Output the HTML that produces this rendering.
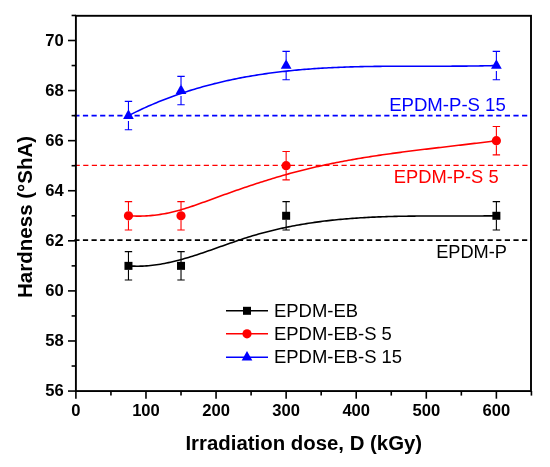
<!DOCTYPE html>
<html><head><meta charset="utf-8"><style>
html,body{margin:0;padding:0;background:#fff;}
svg{display:block;}
</style></head><body>
<svg width="550" height="467" viewBox="0 0 550 467" font-family='"Liberation Sans", Arial, Helvetica, sans-serif'>
<rect width="550" height="467" fill="#fff"/>
<line x1="74.3" y1="115.60" x2="531" y2="115.60" stroke="#0000ff" stroke-width="1.6" stroke-dasharray="5.2 3.41"/>
<text transform="translate(505.80 110.80) scale(1.0440 1)" font-size="17.8" text-anchor="end" fill="#0000ff">EPDM-P-S 15</text>
<line x1="74.6" y1="165.35" x2="531" y2="165.35" stroke="#ff0000" stroke-width="1.4" stroke-dasharray="5.2 3.41"/>
<text transform="translate(498.60 183.40) scale(1.0300 1)" font-size="17.8" text-anchor="end" fill="#ff0000">EPDM-P-S 5</text>
<line x1="74.3" y1="240.10" x2="531" y2="240.10" stroke="#000000" stroke-width="1.6" stroke-dasharray="5.2 3.41"/>
<text transform="translate(507.00 257.80) scale(1.0240 1)" font-size="17.8" text-anchor="end" fill="#000000">EPDM-P</text>
<rect x="75.90" y="15.8" width="455.10" height="375.26" fill="none" stroke="#000" stroke-width="1.9"/>
<line x1="68" y1="391.06" x2="75.9" y2="391.06" stroke="#000" stroke-width="1.6"/>
<text x="63.7" y="396.46" font-size="16.6" font-weight="bold" text-anchor="end">56</text>
<line x1="71.6" y1="366.02" x2="75.9" y2="366.02" stroke="#000" stroke-width="1.6"/>
<line x1="68" y1="340.98" x2="75.9" y2="340.98" stroke="#000" stroke-width="1.6"/>
<text x="63.7" y="346.38" font-size="16.6" font-weight="bold" text-anchor="end">58</text>
<line x1="71.6" y1="315.94" x2="75.9" y2="315.94" stroke="#000" stroke-width="1.6"/>
<line x1="68" y1="290.90" x2="75.9" y2="290.90" stroke="#000" stroke-width="1.6"/>
<text x="63.7" y="296.30" font-size="16.6" font-weight="bold" text-anchor="end">60</text>
<line x1="71.6" y1="265.86" x2="75.9" y2="265.86" stroke="#000" stroke-width="1.6"/>
<line x1="68" y1="240.82" x2="75.9" y2="240.82" stroke="#000" stroke-width="1.6"/>
<text x="63.7" y="246.22" font-size="16.6" font-weight="bold" text-anchor="end">62</text>
<line x1="71.6" y1="215.78" x2="75.9" y2="215.78" stroke="#000" stroke-width="1.6"/>
<line x1="68" y1="190.74" x2="75.9" y2="190.74" stroke="#000" stroke-width="1.6"/>
<text x="63.7" y="196.14" font-size="16.6" font-weight="bold" text-anchor="end">64</text>
<line x1="71.6" y1="165.70" x2="75.9" y2="165.70" stroke="#000" stroke-width="1.6"/>
<line x1="68" y1="140.66" x2="75.9" y2="140.66" stroke="#000" stroke-width="1.6"/>
<text x="63.7" y="146.06" font-size="16.6" font-weight="bold" text-anchor="end">66</text>
<line x1="71.6" y1="115.62" x2="75.9" y2="115.62" stroke="#000" stroke-width="1.6"/>
<line x1="68" y1="90.58" x2="75.9" y2="90.58" stroke="#000" stroke-width="1.6"/>
<text x="63.7" y="95.98" font-size="16.6" font-weight="bold" text-anchor="end">68</text>
<line x1="71.6" y1="65.54" x2="75.9" y2="65.54" stroke="#000" stroke-width="1.6"/>
<line x1="68" y1="40.50" x2="75.9" y2="40.50" stroke="#000" stroke-width="1.6"/>
<text x="63.7" y="45.90" font-size="16.6" font-weight="bold" text-anchor="end">70</text>
<line x1="71.6" y1="15.46" x2="75.9" y2="15.46" stroke="#000" stroke-width="1.6"/>
<line x1="75.90" y1="391" x2="75.90" y2="398.7" stroke="#000" stroke-width="1.6"/>
<text x="75.90" y="416.1" font-size="16.6" font-weight="bold" text-anchor="middle">0</text>
<line x1="110.94" y1="391" x2="110.94" y2="395.6" stroke="#000" stroke-width="1.6"/>
<line x1="145.98" y1="391" x2="145.98" y2="398.7" stroke="#000" stroke-width="1.6"/>
<text x="145.98" y="416.1" font-size="16.6" font-weight="bold" text-anchor="middle">100</text>
<line x1="181.02" y1="391" x2="181.02" y2="395.6" stroke="#000" stroke-width="1.6"/>
<line x1="216.06" y1="391" x2="216.06" y2="398.7" stroke="#000" stroke-width="1.6"/>
<text x="216.06" y="416.1" font-size="16.6" font-weight="bold" text-anchor="middle">200</text>
<line x1="251.10" y1="391" x2="251.10" y2="395.6" stroke="#000" stroke-width="1.6"/>
<line x1="286.14" y1="391" x2="286.14" y2="398.7" stroke="#000" stroke-width="1.6"/>
<text x="286.14" y="416.1" font-size="16.6" font-weight="bold" text-anchor="middle">300</text>
<line x1="321.18" y1="391" x2="321.18" y2="395.6" stroke="#000" stroke-width="1.6"/>
<line x1="356.22" y1="391" x2="356.22" y2="398.7" stroke="#000" stroke-width="1.6"/>
<text x="356.22" y="416.1" font-size="16.6" font-weight="bold" text-anchor="middle">400</text>
<line x1="391.26" y1="391" x2="391.26" y2="395.6" stroke="#000" stroke-width="1.6"/>
<line x1="426.30" y1="391" x2="426.30" y2="398.7" stroke="#000" stroke-width="1.6"/>
<text x="426.30" y="416.1" font-size="16.6" font-weight="bold" text-anchor="middle">500</text>
<line x1="461.34" y1="391" x2="461.34" y2="395.6" stroke="#000" stroke-width="1.6"/>
<line x1="496.38" y1="391" x2="496.38" y2="398.7" stroke="#000" stroke-width="1.6"/>
<text x="496.38" y="416.1" font-size="16.6" font-weight="bold" text-anchor="middle">600</text>
<line x1="531.42" y1="391" x2="531.42" y2="395.6" stroke="#000" stroke-width="1.6"/>
<text transform="translate(303.80 449.80) scale(0.9900 1)" font-size="20.6" font-weight="bold" text-anchor="middle">Irradiation dose, D (kGy)</text>
<text transform="translate(31.70 216.90) rotate(-90) scale(1.0120 1)" font-size="20.3" font-weight="bold" text-anchor="middle">Hardness (°ShA)</text>
<path d="M128.5 265.82 L130.5 265.97 L132.5 266.08 L134.5 266.15 L136.5 266.19 L138.5 266.20 L140.5 266.17 L142.5 266.10 L144.5 266.01 L146.5 265.88 L148.5 265.72 L150.5 265.53 L152.5 265.32 L154.5 265.07 L156.5 264.80 L158.5 264.50 L160.5 264.18 L162.5 263.83 L164.5 263.46 L166.5 263.06 L168.5 262.64 L170.5 262.20 L172.5 261.74 L174.5 261.26 L176.5 260.76 L178.5 260.24 L180.5 259.71 L182.5 259.15 L184.5 258.59 L186.5 258.00 L188.5 257.41 L190.5 256.80 L192.5 256.17 L194.5 255.54 L196.5 254.90 L198.5 254.24 L200.5 253.58 L202.5 252.91 L204.5 252.23 L206.5 251.54 L208.5 250.85 L210.5 250.15 L212.5 249.45 L214.5 248.75 L216.5 248.04 L218.5 247.33 L220.5 246.62 L222.5 245.91 L224.5 245.21 L226.5 244.50 L228.5 243.80 L230.5 243.10 L232.5 242.40 L234.5 241.71 L236.5 241.02 L238.5 240.35 L240.5 239.68 L242.5 239.01 L244.5 238.36 L246.5 237.72 L248.5 237.08 L250.5 236.46 L252.5 235.85 L254.5 235.26 L256.5 234.67 L258.5 234.10 L260.5 233.54 L262.5 232.99 L264.5 232.45 L266.5 231.93 L268.5 231.41 L270.5 230.91 L272.5 230.41 L274.5 229.93 L276.5 229.46 L278.5 229.00 L280.5 228.55 L282.5 228.11 L284.5 227.68 L286.5 227.26 L288.5 226.86 L290.5 226.46 L292.5 226.07 L294.5 225.69 L296.5 225.32 L298.5 224.96 L300.5 224.61 L302.5 224.27 L304.5 223.94 L306.5 223.61 L308.5 223.30 L310.5 222.99 L312.5 222.69 L314.5 222.41 L316.5 222.13 L318.5 221.85 L320.5 221.59 L322.5 221.33 L324.5 221.08 L326.5 220.84 L328.5 220.61 L330.5 220.39 L332.5 220.17 L334.5 219.96 L336.5 219.75 L338.5 219.56 L340.5 219.37 L342.5 219.19 L344.5 219.01 L346.5 218.84 L348.5 218.68 L350.5 218.52 L352.5 218.37 L354.5 218.22 L356.5 218.09 L358.5 217.95 L360.5 217.82 L362.5 217.70 L364.5 217.59 L366.5 217.48 L368.5 217.37 L370.5 217.27 L372.5 217.17 L374.5 217.08 L376.5 217.00 L378.5 216.91 L380.5 216.84 L382.5 216.76 L384.5 216.69 L386.5 216.63 L388.5 216.57 L390.5 216.51 L392.5 216.46 L394.5 216.41 L396.5 216.36 L398.5 216.32 L400.5 216.28 L402.5 216.24 L404.5 216.21 L406.5 216.18 L408.5 216.15 L410.5 216.13 L412.5 216.10 L414.5 216.08 L416.5 216.07 L418.5 216.05 L420.5 216.04 L422.5 216.02 L424.5 216.01 L426.5 216.00 L428.5 216.00 L430.5 215.99 L432.5 215.99 L434.5 215.98 L436.5 215.98 L438.5 215.98 L440.5 215.98 L442.5 215.98 L444.5 215.98 L446.5 215.98 L448.5 215.98 L450.5 215.98 L452.5 215.98 L454.5 215.99 L456.5 215.99 L458.5 215.99 L460.5 215.99 L462.5 215.99 L464.5 215.99 L466.5 215.98 L468.5 215.98 L470.5 215.98 L472.5 215.97 L474.5 215.97 L476.5 215.96 L478.5 215.95 L480.5 215.94 L482.5 215.93 L484.5 215.91 L486.5 215.90 L488.5 215.88 L490.5 215.86 L492.5 215.83 L494.5 215.81 L496.4 215.78" fill="none" stroke="#000000" stroke-width="1.6" stroke-linejoin="round"/>
<path d="M128.46 251.66V261.96M128.46 269.76V280.06M124.76 251.66H132.16M124.76 280.06H132.16" stroke="#000000" stroke-width="1.1" fill="none"/>
<rect x="124.46" y="261.86" width="8" height="8" fill="#000000"/>
<path d="M181.02 251.66V261.96M181.02 269.76V280.06M177.32 251.66H184.72M177.32 280.06H184.72" stroke="#000000" stroke-width="1.1" fill="none"/>
<rect x="177.02" y="261.86" width="8" height="8" fill="#000000"/>
<path d="M286.14 201.58V211.88M286.14 219.68V229.98M282.44 201.58H289.84M282.44 229.98H289.84" stroke="#000000" stroke-width="1.1" fill="none"/>
<rect x="282.14" y="211.78" width="8" height="8" fill="#000000"/>
<path d="M496.38 201.58V211.88M496.38 219.68V229.98M492.68 201.58H500.08M492.68 229.98H500.08" stroke="#000000" stroke-width="1.1" fill="none"/>
<rect x="492.38" y="211.78" width="8" height="8" fill="#000000"/>
<path d="M128.5 215.78 L130.5 215.89 L132.5 215.99 L134.5 216.05 L136.5 216.09 L138.5 216.10 L140.5 216.09 L142.5 216.04 L144.5 215.97 L146.5 215.87 L148.5 215.75 L150.5 215.59 L152.5 215.41 L154.5 215.20 L156.5 214.97 L158.5 214.70 L160.5 214.40 L162.5 214.08 L164.5 213.73 L166.5 213.34 L168.5 212.93 L170.5 212.49 L172.5 212.03 L174.5 211.53 L176.5 211.01 L178.5 210.47 L180.5 209.91 L182.5 209.32 L184.5 208.72 L186.5 208.09 L188.5 207.45 L190.5 206.80 L192.5 206.13 L194.5 205.45 L196.5 204.75 L198.5 204.05 L200.5 203.34 L202.5 202.62 L204.5 201.89 L206.5 201.17 L208.5 200.43 L210.5 199.70 L212.5 198.96 L214.5 198.23 L216.5 197.50 L218.5 196.77 L220.5 196.04 L222.5 195.32 L224.5 194.60 L226.5 193.88 L228.5 193.17 L230.5 192.46 L232.5 191.76 L234.5 191.05 L236.5 190.35 L238.5 189.66 L240.5 188.97 L242.5 188.28 L244.5 187.60 L246.5 186.92 L248.5 186.25 L250.5 185.58 L252.5 184.91 L254.5 184.25 L256.5 183.60 L258.5 182.95 L260.5 182.31 L262.5 181.67 L264.5 181.03 L266.5 180.40 L268.5 179.78 L270.5 179.17 L272.5 178.55 L274.5 177.95 L276.5 177.35 L278.5 176.76 L280.5 176.17 L282.5 175.59 L284.5 175.02 L286.5 174.45 L288.5 173.89 L290.5 173.34 L292.5 172.79 L294.5 172.25 L296.5 171.72 L298.5 171.20 L300.5 170.68 L302.5 170.17 L304.5 169.67 L306.5 169.18 L308.5 168.69 L310.5 168.21 L312.5 167.74 L314.5 167.27 L316.5 166.81 L318.5 166.36 L320.5 165.91 L322.5 165.47 L324.5 165.04 L326.5 164.61 L328.5 164.19 L330.5 163.78 L332.5 163.37 L334.5 162.97 L336.5 162.57 L338.5 162.18 L340.5 161.80 L342.5 161.42 L344.5 161.04 L346.5 160.67 L348.5 160.31 L350.5 159.95 L352.5 159.60 L354.5 159.25 L356.5 158.90 L358.5 158.56 L360.5 158.23 L362.5 157.90 L364.5 157.57 L366.5 157.25 L368.5 156.93 L370.5 156.62 L372.5 156.31 L374.5 156.01 L376.5 155.70 L378.5 155.41 L380.5 155.11 L382.5 154.82 L384.5 154.53 L386.5 154.25 L388.5 153.97 L390.5 153.69 L392.5 153.41 L394.5 153.14 L396.5 152.87 L398.5 152.61 L400.5 152.34 L402.5 152.08 L404.5 151.82 L406.5 151.56 L408.5 151.31 L410.5 151.05 L412.5 150.80 L414.5 150.55 L416.5 150.30 L418.5 150.06 L420.5 149.81 L422.5 149.57 L424.5 149.33 L426.5 149.09 L428.5 148.85 L430.5 148.61 L432.5 148.37 L434.5 148.14 L436.5 147.90 L438.5 147.66 L440.5 147.43 L442.5 147.19 L444.5 146.96 L446.5 146.73 L448.5 146.49 L450.5 146.26 L452.5 146.02 L454.5 145.79 L456.5 145.56 L458.5 145.32 L460.5 145.09 L462.5 144.85 L464.5 144.61 L466.5 144.37 L468.5 144.14 L470.5 143.90 L472.5 143.66 L474.5 143.41 L476.5 143.17 L478.5 142.93 L480.5 142.68 L482.5 142.43 L484.5 142.18 L486.5 141.93 L488.5 141.68 L490.5 141.42 L492.5 141.16 L494.5 140.90 L496.4 140.65" fill="none" stroke="#ff0000" stroke-width="1.6" stroke-linejoin="round"/>
<path d="M128.46 201.58V211.18M128.46 220.38V229.98M124.76 201.58H132.16M124.76 229.98H132.16" stroke="#ff0000" stroke-width="1.1" fill="none"/>
<circle cx="128.46" cy="215.78" r="4.6" fill="#ff0000"/>
<path d="M181.02 201.58V211.18M181.02 220.38V229.98M177.32 201.58H184.72M177.32 229.98H184.72" stroke="#ff0000" stroke-width="1.1" fill="none"/>
<circle cx="181.02" cy="215.78" r="4.6" fill="#ff0000"/>
<path d="M286.14 151.50V161.10M286.14 170.30V179.90M282.44 151.50H289.84M282.44 179.90H289.84" stroke="#ff0000" stroke-width="1.1" fill="none"/>
<circle cx="286.14" cy="165.70" r="4.6" fill="#ff0000"/>
<path d="M496.38 126.46V136.06M496.38 145.26V154.86M492.68 126.46H500.08M492.68 154.86H500.08" stroke="#ff0000" stroke-width="1.1" fill="none"/>
<circle cx="496.38" cy="140.66" r="4.6" fill="#ff0000"/>
<path d="M128.5 115.61 L130.5 114.60 L132.5 113.60 L134.5 112.61 L136.5 111.64 L138.5 110.68 L140.5 109.73 L142.5 108.80 L144.5 107.89 L146.5 106.98 L148.5 106.10 L150.5 105.22 L152.5 104.36 L154.5 103.51 L156.5 102.68 L158.5 101.85 L160.5 101.05 L162.5 100.25 L164.5 99.47 L166.5 98.69 L168.5 97.94 L170.5 97.19 L172.5 96.46 L174.5 95.74 L176.5 95.03 L178.5 94.33 L180.5 93.64 L182.5 92.97 L184.5 92.30 L186.5 91.65 L188.5 91.01 L190.5 90.38 L192.5 89.76 L194.5 89.16 L196.5 88.56 L198.5 87.97 L200.5 87.40 L202.5 86.83 L204.5 86.28 L206.5 85.73 L208.5 85.20 L210.5 84.67 L212.5 84.16 L214.5 83.65 L216.5 83.16 L218.5 82.67 L220.5 82.19 L222.5 81.72 L224.5 81.26 L226.5 80.81 L228.5 80.37 L230.5 79.94 L232.5 79.52 L234.5 79.11 L236.5 78.70 L238.5 78.30 L240.5 77.91 L242.5 77.53 L244.5 77.16 L246.5 76.80 L248.5 76.44 L250.5 76.10 L252.5 75.76 L254.5 75.42 L256.5 75.10 L258.5 74.78 L260.5 74.48 L262.5 74.17 L264.5 73.88 L266.5 73.59 L268.5 73.31 L270.5 73.04 L272.5 72.78 L274.5 72.52 L276.5 72.27 L278.5 72.02 L280.5 71.78 L282.5 71.55 L284.5 71.33 L286.5 71.11 L288.5 70.89 L290.5 70.69 L292.5 70.49 L294.5 70.29 L296.5 70.10 L298.5 69.92 L300.5 69.75 L302.5 69.57 L304.5 69.41 L306.5 69.25 L308.5 69.09 L310.5 68.94 L312.5 68.80 L314.5 68.66 L316.5 68.53 L318.5 68.40 L320.5 68.27 L322.5 68.15 L324.5 68.04 L326.5 67.93 L328.5 67.82 L330.5 67.72 L332.5 67.62 L334.5 67.53 L336.5 67.44 L338.5 67.36 L340.5 67.27 L342.5 67.20 L344.5 67.12 L346.5 67.05 L348.5 66.99 L350.5 66.92 L352.5 66.86 L354.5 66.81 L356.5 66.76 L358.5 66.71 L360.5 66.66 L362.5 66.61 L364.5 66.57 L366.5 66.53 L368.5 66.50 L370.5 66.46 L372.5 66.43 L374.5 66.41 L376.5 66.38 L378.5 66.36 L380.5 66.33 L382.5 66.31 L384.5 66.30 L386.5 66.28 L388.5 66.26 L390.5 66.25 L392.5 66.24 L394.5 66.23 L396.5 66.22 L398.5 66.22 L400.5 66.21 L402.5 66.20 L404.5 66.20 L406.5 66.20 L408.5 66.20 L410.5 66.19 L412.5 66.19 L414.5 66.19 L416.5 66.19 L418.5 66.19 L420.5 66.19 L422.5 66.20 L424.5 66.20 L426.5 66.20 L428.5 66.20 L430.5 66.20 L432.5 66.20 L434.5 66.20 L436.5 66.20 L438.5 66.20 L440.5 66.20 L442.5 66.20 L444.5 66.19 L446.5 66.19 L448.5 66.19 L450.5 66.18 L452.5 66.17 L454.5 66.16 L456.5 66.15 L458.5 66.14 L460.5 66.13 L462.5 66.12 L464.5 66.10 L466.5 66.08 L468.5 66.06 L470.5 66.04 L472.5 66.02 L474.5 65.99 L476.5 65.96 L478.5 65.93 L480.5 65.90 L482.5 65.86 L484.5 65.82 L486.5 65.78 L488.5 65.74 L490.5 65.69 L492.5 65.64 L494.5 65.59 L496.4 65.54" fill="none" stroke="#0000ff" stroke-width="1.6" stroke-linejoin="round"/>
<path d="M128.46 101.42V110.22M128.46 121.02V129.82M124.76 101.42H132.16M124.76 129.82H132.16" stroke="#0000ff" stroke-width="1.1" fill="none"/>
<path d="M128.46 109.32 L133.81 118.92 L123.11 118.92Z" fill="#0000ff"/>
<path d="M181.02 76.38V85.18M181.02 95.98V104.78M177.32 76.38H184.72M177.32 104.78H184.72" stroke="#0000ff" stroke-width="1.1" fill="none"/>
<path d="M181.02 84.28 L186.37 93.88 L175.67 93.88Z" fill="#0000ff"/>
<path d="M286.14 51.34V60.14M286.14 70.94V79.74M282.44 51.34H289.84M282.44 79.74H289.84" stroke="#0000ff" stroke-width="1.1" fill="none"/>
<path d="M286.14 59.24 L291.49 68.84 L280.79 68.84Z" fill="#0000ff"/>
<path d="M496.38 51.34V60.14M496.38 70.94V79.74M492.68 51.34H500.08M492.68 79.74H500.08" stroke="#0000ff" stroke-width="1.1" fill="none"/>
<path d="M496.38 59.24 L501.73 68.84 L491.03 68.84Z" fill="#0000ff"/>
<line x1="226" y1="310.8" x2="268" y2="310.8" stroke="#000000" stroke-width="1.6"/>
<rect x="243.00" y="306.80" width="8" height="8" fill="#000000"/>
<text transform="translate(274.00 316.70) scale(1.0200 1)" font-size="18.1">EPDM-EB</text>
<line x1="226" y1="333.8" x2="268" y2="333.8" stroke="#ff0000" stroke-width="1.6"/>
<circle cx="247.00" cy="333.80" r="4.6" fill="#ff0000"/>
<text transform="translate(274.00 339.70) scale(1.0200 1)" font-size="18.1">EPDM-EB-S 5</text>
<line x1="226" y1="357.2" x2="268" y2="357.2" stroke="#0000ff" stroke-width="1.6"/>
<path d="M247.00 350.90 L252.35 360.50 L241.65 360.50Z" fill="#0000ff"/>
<text transform="translate(274.00 363.10) scale(1.0200 1)" font-size="18.1">EPDM-EB-S 15</text>
</svg>
</body></html>
